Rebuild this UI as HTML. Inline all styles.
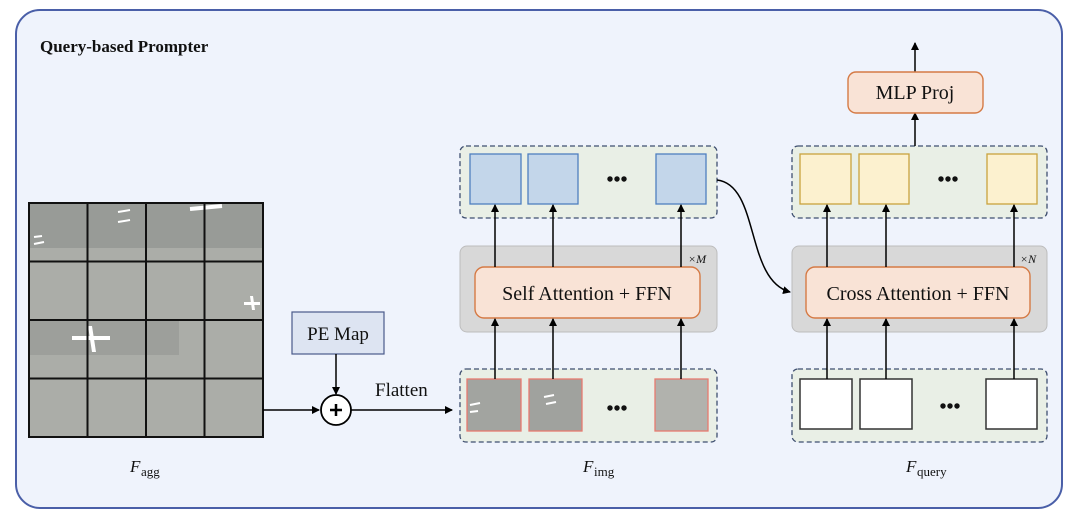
<!DOCTYPE html>
<html><head><meta charset="utf-8"><style>
html,body{margin:0;padding:0;background:#fff;width:1080px;height:522px;overflow:hidden}
text{font-family:"Liberation Serif",serif;fill:#111}
</style></head><body>
<svg width="1080" height="522" viewBox="0 0 1080 522" xmlns="http://www.w3.org/2000/svg">
<defs>
<marker id="a" markerWidth="8" markerHeight="8" refX="7" refY="4" orient="auto" markerUnits="userSpaceOnUse">
<path d="M0,0 L8,4 L0,8 z" fill="#000"/></marker>
</defs>
<rect x="16" y="10" width="1046" height="498" rx="24" fill="#eff3fc" stroke="#4a5fa8" stroke-width="2"/>
<text x="40" y="52" font-size="17" font-weight="bold">Query-based Prompter</text>

<!-- grid -->
<rect x="29" y="203" width="234" height="234" fill="#abada8"/>
<rect x="29" y="203" width="234" height="45" fill="#949692" opacity="0.8"/>
<rect x="29" y="320" width="150" height="35" fill="#9d9f9b"/>
<g stroke="#fff" stroke-width="2">
<line x1="34" y1="244" x2="44" y2="242"/><line x1="34" y1="237" x2="42" y2="236"/>
<line x1="118" y1="212" x2="130" y2="210"/><line x1="118" y1="222" x2="130" y2="220"/>
<line x1="190" y1="209" x2="222" y2="206" stroke-width="4"/>
</g>
<g fill="#fff"><path d="M72,336 L110,336 L110,340 L72,340z"/><path d="M88,326 L92,326 L96,352 L92,352z"/>
<path d="M244,302 L260,302 L260,305 L244,305z"/><path d="M250,296 L253,296 L255,310 L252,310z"/></g>
<g stroke="#111" stroke-width="2" fill="none">
<rect x="29" y="203" width="234" height="234"/>
<line x1="87.5" y1="203" x2="87.5" y2="437"/><line x1="146" y1="203" x2="146" y2="437"/><line x1="204.5" y1="203" x2="204.5" y2="437"/>
<line x1="29" y1="261.5" x2="263" y2="261.5"/><line x1="29" y1="320" x2="263" y2="320"/><line x1="29" y1="378.5" x2="263" y2="378.5"/>
</g>
<text x="130" y="472" font-size="17" font-style="italic">F</text><text x="141" y="476" font-size="13">agg</text>

<!-- PE and plus -->
<rect x="292" y="312" width="92" height="42" fill="#dde4f2" stroke="#4a5a8a" stroke-width="1.2"/>
<text x="338" y="340" font-size="19" text-anchor="middle">PE Map</text>
<line x1="336" y1="354" x2="336" y2="394" stroke="#000" stroke-width="1.5" marker-end="url(#a)"/>
<line x1="263" y1="410" x2="319" y2="410" stroke="#000" stroke-width="1.5" marker-end="url(#a)"/>
<circle cx="336" cy="410" r="15" fill="#fff" stroke="#000" stroke-width="1.8"/>
<path d="M330,410 H342 M336,404 V416" stroke="#000" stroke-width="2.5"/>
<line x1="351" y1="410" x2="452" y2="410" stroke="#000" stroke-width="1.5" marker-end="url(#a)"/>
<text x="375" y="396" font-size="19">Flatten</text>

<!-- left column -->
<rect x="460" y="146" width="257" height="72" rx="6" fill="#e9efe6" stroke="#3f4f70" stroke-width="1.3" stroke-dasharray="5,3"/>
<g fill="#c3d6ea" stroke="#4f7fc0" stroke-width="1.3">
<rect x="470" y="154" width="51" height="50"/><rect x="528" y="154" width="50" height="50"/><rect x="656" y="154" width="50" height="50"/></g>
<text x="617" y="186" font-size="20" font-weight="bold" text-anchor="middle">•••</text>
<rect x="460" y="246" width="257" height="86" rx="7" fill="#d8d8d8" stroke="#bdbdbd"/>
<rect x="475" y="267" width="225" height="51" rx="9" fill="#f9e3d6" stroke="#d57a45" stroke-width="1.4"/>
<text x="587" y="300" font-size="20" text-anchor="middle">Self Attention + FFN</text>
<text x="688" y="263" font-size="12" font-style="italic">×M</text>
<rect x="460" y="369" width="257" height="73" rx="6" fill="#e9efe6" stroke="#3f4f70" stroke-width="1.3" stroke-dasharray="5,3"/>
<g stroke="#e87a70" stroke-width="1.3"><rect x="467" y="379" width="54" height="52" fill="#a2a4a0"/><rect x="529" y="379" width="53" height="52" fill="#a0a29e"/><rect x="655" y="379" width="53" height="52" fill="#b1b2ad"/></g>
<g stroke="#fff" stroke-width="2"><line x1="470" y1="405" x2="480" y2="403"/><line x1="470" y1="412" x2="478" y2="411"/><line x1="544" y1="397" x2="554" y2="395"/><line x1="546" y1="404" x2="556" y2="402"/></g>
<text x="617" y="415" font-size="20" font-weight="bold" text-anchor="middle">•••</text>
<g stroke="#000" stroke-width="1.5" marker-end="url(#a)">
<line x1="495" y1="379" x2="495" y2="319"/><line x1="553" y1="379" x2="553" y2="319"/><line x1="681" y1="379" x2="681" y2="319"/>
<line x1="495" y1="267" x2="495" y2="205"/><line x1="553" y1="267" x2="553" y2="205"/><line x1="681" y1="267" x2="681" y2="205"/>
</g>
<text x="583" y="472" font-size="17" font-style="italic">F</text><text x="594" y="476" font-size="13">img</text>

<path d="M717,180 C760,185 745,280 790,292" fill="none" stroke="#000" stroke-width="1.5" marker-end="url(#a)"/>

<!-- right column -->
<rect x="792" y="146" width="255" height="72" rx="6" fill="#e9efe6" stroke="#3f4f70" stroke-width="1.3" stroke-dasharray="5,3"/>
<g fill="#fcf1cf" stroke="#c9a23e" stroke-width="1.3">
<rect x="800" y="154" width="51" height="50"/><rect x="859" y="154" width="50" height="50"/><rect x="987" y="154" width="50" height="50"/></g>
<text x="948" y="186" font-size="20" font-weight="bold" text-anchor="middle">•••</text>
<rect x="792" y="246" width="255" height="86" rx="7" fill="#d8d8d8" stroke="#bdbdbd"/>
<rect x="806" y="267" width="224" height="51" rx="9" fill="#f9e3d6" stroke="#d57a45" stroke-width="1.4"/>
<text x="918" y="300" font-size="20" text-anchor="middle">Cross Attention + FFN</text>
<text x="1020" y="263" font-size="12" font-style="italic">×N</text>
<rect x="792" y="369" width="255" height="73" rx="6" fill="#e9efe6" stroke="#3f4f70" stroke-width="1.3" stroke-dasharray="5,3"/>
<g fill="#fff" stroke="#333" stroke-width="1.5">
<rect x="800" y="379" width="52" height="50"/><rect x="860" y="379" width="52" height="50"/><rect x="986" y="379" width="51" height="50"/></g>
<text x="950" y="413" font-size="20" font-weight="bold" text-anchor="middle">•••</text>
<g stroke="#000" stroke-width="1.5" marker-end="url(#a)">
<line x1="827" y1="379" x2="827" y2="319"/><line x1="886" y1="379" x2="886" y2="319"/><line x1="1014" y1="379" x2="1014" y2="319"/>
<line x1="827" y1="267" x2="827" y2="205"/><line x1="886" y1="267" x2="886" y2="205"/><line x1="1014" y1="267" x2="1014" y2="205"/>
<line x1="915" y1="146" x2="915" y2="113"/><line x1="915" y1="72" x2="915" y2="43"/>
</g>
<rect x="848" y="72" width="135" height="41" rx="8" fill="#f9e3d6" stroke="#d57a45" stroke-width="1.4"/>
<text x="915" y="99" font-size="20" text-anchor="middle">MLP Proj</text>
<text x="906" y="472" font-size="17" font-style="italic">F</text><text x="917" y="476" font-size="13">query</text>
</svg>
</body></html>
